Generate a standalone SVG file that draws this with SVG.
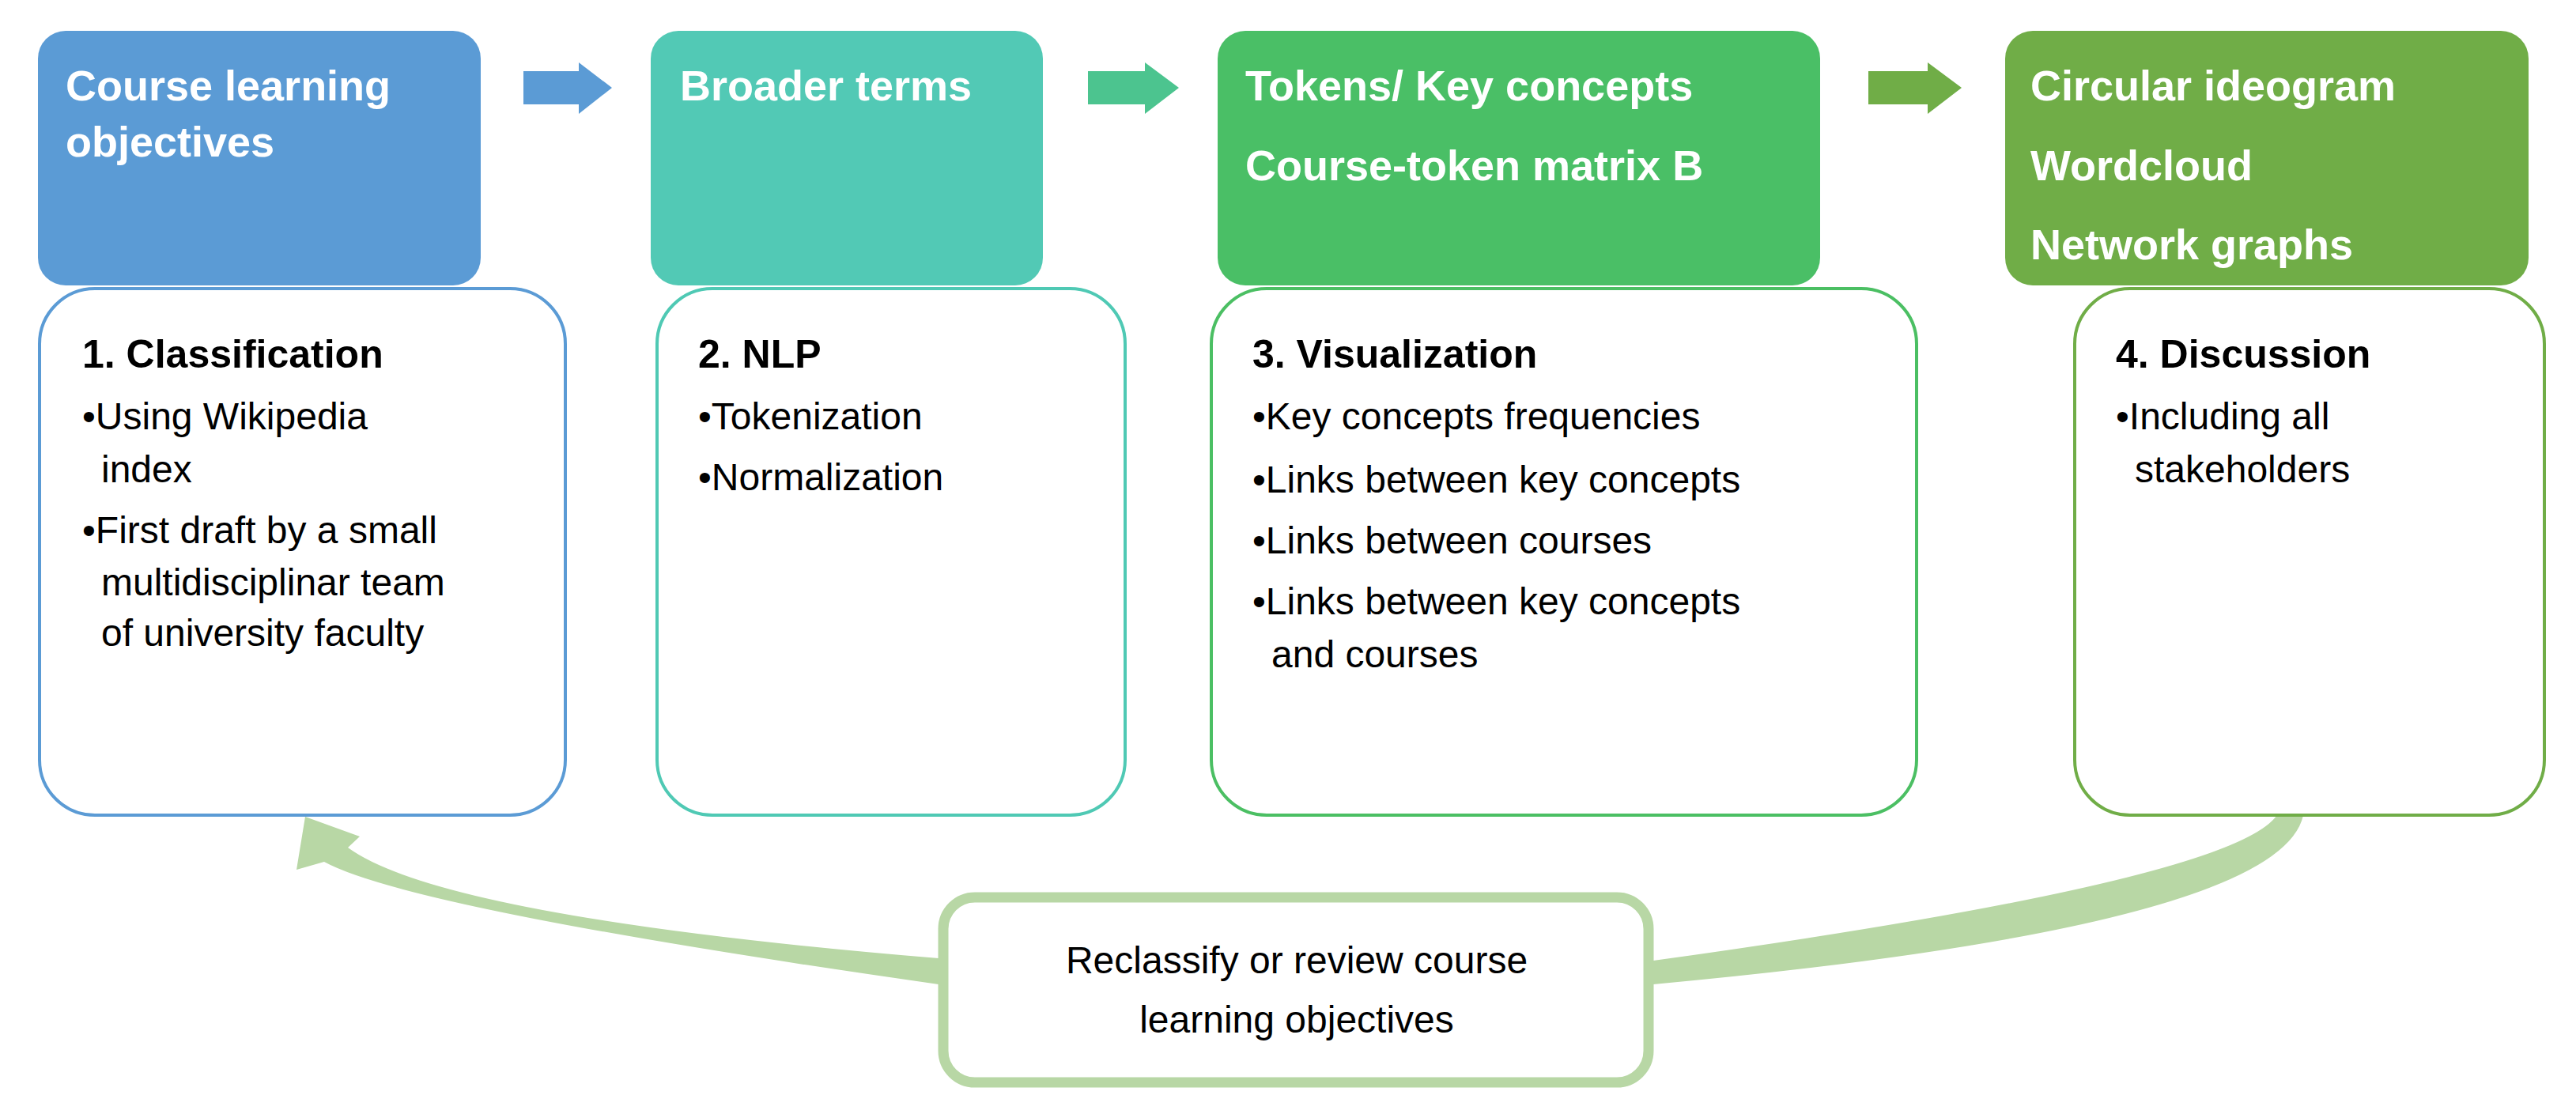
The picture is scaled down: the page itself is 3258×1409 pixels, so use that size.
<svg xmlns="http://www.w3.org/2000/svg" width="3258" height="1409" viewBox="0 0 3258 1409">
<style>
.h{font-family:"Liberation Sans",Arial,sans-serif;font-weight:bold;font-size:54px;fill:#fff}
.t{font-family:"Liberation Sans",Arial,sans-serif;font-size:48px;fill:#000}
.b{font-weight:bold;font-size:50px}
.box{fill:#fff;stroke-width:4}
</style>
<rect width="3258" height="1409" fill="#fff"/>
<g id="connectors">
<polygon points="662,90 732,90 732,79 774,111 732,144 732,132 662,132" fill="#5b9bd5"/>
<polygon points="1376,90 1448,90 1448,79 1491,111 1448,144 1448,132 1376,132" fill="#4cc48f"/>
<polygon points="2363,90 2438,90 2438,79 2481,111 2438,144 2438,132 2363,132" fill="#70ad47"/>
<path d="M1187,1245 Q520,1150 410,1090 L375,1100 L386,1033 L455,1058 L440,1072 Q560,1160 1187,1212 Z" fill="#b8d7a5"/>
<path d="M2091,1215 Q2850,1110 2883,1025 L2914,1025 Q2900,1170 2091,1245 Z" fill="#b8d7a5"/>
</g>
<g id="node1">
<rect x="50" y="365" width="665" height="666" rx="70" class="box" stroke="#5b9bd5"/>
<rect x="48" y="39" width="560" height="322" rx="35" fill="#5b9bd5"/>
<text class="h" x="83" y="127">Course learning</text>
<text class="h" x="83" y="198">objectives</text>
<text class="t b" x="104" y="465">1. Classification</text>
<text class="t" x="104" y="543">•Using Wikipedia</text>
<text class="t" x="128" y="610">index</text>
<text class="t" x="104" y="687">•First draft by a small</text>
<text class="t" x="128" y="753">multidisciplinar team</text>
<text class="t" x="128" y="817">of university faculty</text>
</g>
<g id="node2">
<rect x="831" y="365" width="592" height="666" rx="70" class="box" stroke="#4fc9b4"/>
<rect x="823" y="39" width="496" height="322" rx="35" fill="#52c9b5"/>
<text class="h" x="860" y="127">Broader terms</text>
<text class="t b" x="883" y="465">2. NLP</text>
<text class="t" x="883" y="543">•Tokenization</text>
<text class="t" x="883" y="620">•Normalization</text>
</g>
<g id="node3">
<rect x="1532" y="365" width="892" height="666" rx="70" class="box" stroke="#4bbf63"/>
<rect x="1540" y="39" width="762" height="322" rx="35" fill="#4abf66"/>
<text class="h" x="1575" y="127">Tokens/ Key concepts</text>
<text class="h" x="1575" y="228">Course-token matrix B</text>
<text class="t b" x="1584" y="465">3. Visualization</text>
<text class="t" x="1584" y="543">•Key concepts frequencies</text>
<text class="t" x="1584" y="623">•Links between key concepts</text>
<text class="t" x="1584" y="700">•Links between courses</text>
<text class="t" x="1584" y="777">•Links between key concepts</text>
<text class="t" x="1608" y="844">and courses</text>
</g>
<g id="node4">
<rect x="2624" y="365" width="594" height="666" rx="70" class="box" stroke="#70ad47"/>
<rect x="2536" y="39" width="662" height="322" rx="35" fill="#70ad47"/>
<text class="h" x="2568" y="127">Circular ideogram</text>
<text class="h" x="2568" y="228">Wordcloud</text>
<text class="h" x="2568" y="328">Network graphs</text>
<text class="t b" x="2676" y="465">4. Discussion</text>
<text class="t" x="2676" y="543">•Including all</text>
<text class="t" x="2700" y="610">stakeholders</text>
</g>
<g id="node5">
<rect x="1193" y="1135" width="892" height="234" rx="40" fill="#fff" stroke="#b8d7a5" stroke-width="13"/>
<text class="t" x="1640" y="1231" text-anchor="middle">Reclassify or review course</text>
<text class="t" x="1640" y="1306" text-anchor="middle">learning objectives</text>
</g>
</svg>
